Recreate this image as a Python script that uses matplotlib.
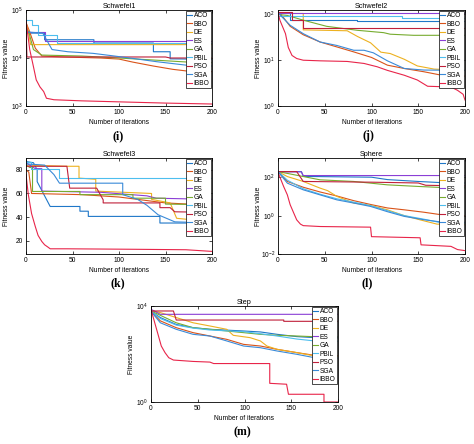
import numpy as np
import matplotlib
matplotlib.use('Agg')
import matplotlib.pyplot as plt
from matplotlib.ticker import FixedLocator, FuncFormatter, NullLocator

plt.rcParams['font.family'] = ['Liberation Sans', 'DejaVu Sans']
plt.rcParams['mathtext.fontset'] = 'custom'
plt.rcParams['mathtext.rm'] = 'Liberation Sans'
plt.rcParams['mathtext.it'] = 'Liberation Sans'

names = ['ACO', 'BBO', 'DE', 'ES', 'GA', 'PBIL', 'PSO', 'SGA', 'IBBO']
colors = ['#1f77c8', '#d95319', '#edb120', '#8b3fd6', '#77ac30',
          '#4dbeee', '#c0203a', '#3a8ad8', '#e8254a']

# ---- (i) Schwefel1 ----
s1_x = {
    'ACO': [0, 20, 20, 73, 73, 137, 137, 155, 155, 200],
    'BBO': [0, 4, 10, 17, 40, 80, 100, 115, 137, 158, 175, 200],
    'DE': [0, 2, 5, 200],
    'ES': [0, 20, 20, 200],
    'GA': [0, 3, 8, 17, 60, 100, 140, 175, 200],
    'PBIL': [0, 6, 6, 13, 13, 33, 33, 200],
    'PSO': [0, 1, 150, 155, 200],
    'SGA': [0, 18, 28, 45, 72, 95, 115, 140, 172, 200],
    'IBBO': [0, 4, 8, 11, 15, 19, 22, 30, 60, 100, 150, 200],
}
s1_y = {
    'ACO': [3.3e4, 3.3e4, 2.4e4, 2.4e4, 2.05e4, 2.05e4, 1.35e4, 1.35e4, 9.6e3, 9.4e3],
    'BBO': [5.5e4, 3.5e4, 1.6e4, 1.1e4, 1.05e4, 1.0e4, 9.5e3, 8.2e3, 6.8e3, 5.8e3, 5.3e3, 5.2e3],
    'DE': [5.4e4, 4.0e4, 1.9e4, 1.9e4],
    'ES': [3.5e4, 3.5e4, 2.3e4, 2.3e4],
    'GA': [4.2e4, 3.5e4, 1.5e4, 1.15e4, 1.1e4, 1.0e4, 9.0e3, 8.2e3, 8.0e3],
    'PBIL': [6.2e4, 6.2e4, 4.8e4, 4.8e4, 3.0e4, 3.0e4, 2.05e4, 2.05e4],
    'PSO': [4.5e4, 1.05e4, 1.05e4, 1.0e4, 1.0e4],
    'SGA': [3.5e4, 3.3e4, 1.5e4, 1.35e4, 1.25e4, 1.1e4, 9.8e3, 8.4e3, 7.1e3, 6.8e3],
    'IBBO': [6e4, 1.5e4, 6.6e3, 3.5e3, 2.5e3, 2.0e3, 1.45e3, 1.35e3, 1.28e3, 1.22e3, 1.15e3, 1.1e3],
}

# ---- (j) Schwefel2 ----
s2_x = {
    'ACO': [0, 13, 13, 85, 85, 200],
    'BBO': [0, 5, 13, 27, 45, 63, 81, 100, 117, 135, 156, 175, 200],
    'DE': [0, 27, 27, 74, 85, 99, 110, 120, 135, 149, 167, 200],
    'ES': [0, 200],
    'GA': [0, 10, 27, 52, 85, 113, 120, 145, 200],
    'PBIL': [0, 133, 133, 200],
    'PSO': [0, 15, 15, 27, 27, 200],
    'SGA': [0, 5, 13, 27, 45, 63, 81, 92, 102, 117, 135, 156, 200],
    'IBBO': [0, 2, 8, 11, 15, 20, 27, 45, 74, 92, 106, 117, 135, 149, 160, 185, 192, 198, 200],
}
s2_y = {
    'ACO': [110, 110, 76, 76, 73, 73],
    'BBO': [110, 90, 55, 36, 25, 19.5, 15.2, 11.5, 7.8, 6.6, 5.6, 4.7, 4.5],
    'DE': [105, 105, 46, 44, 33, 24, 15, 14, 10.5, 7.5, 6.4, 6.0],
    'ES': [108, 108],
    'GA': [100, 95, 75, 55, 45, 40, 37, 35, 35],
    'PBIL': [92, 92, 82, 82],
    'PSO': [115, 115, 75, 75, 51, 51],
    'SGA': [110, 85, 58, 38, 25, 21, 16.5, 16.5, 14.5, 9.7, 6.6, 6.1, 6.0],
    'IBBO': [110, 75, 38, 19, 12.7, 10.9, 10, 9.7, 9.4, 8.5, 7.2, 6.0, 4.7, 3.7, 2.7, 2.6, 2.2, 1.8, 1.35],
}

# ---- (k) Schwefel3 ----
s3_x = {
    'ACO': [0, 8, 12, 12, 26, 58, 58, 67, 67, 144, 144, 200],
    'BBO': [0, 3, 6, 60, 100, 150, 175, 200],
    'DE': [0, 44, 57, 57, 75, 75, 135, 135, 155, 162, 175, 200],
    'ES': [0, 10, 17, 17, 80, 130, 140, 200],
    'GA': [0, 4, 7, 7, 58, 58, 115, 115, 150, 150, 200],
    'PBIL': [0, 5, 5, 36, 36, 200],
    'PSO': [0, 44, 47, 76, 83, 83, 144, 144, 155, 160, 200],
    'SGA': [0, 20, 30, 36, 104, 104, 120, 130, 142, 160, 200],
    'IBBO': [0, 2.5, 6, 10, 13, 17, 20, 24, 26, 44, 115, 172, 200],
}
s3_y = {
    'ACO': [87, 86, 80, 70, 49, 49, 45, 45, 40.6, 40.6, 35, 35],
    'BBO': [80, 78, 60, 59, 57, 52, 51, 51],
    'DE': [84, 83, 83, 73, 72, 62, 60, 55, 52, 39, 38, 38],
    'ES': [86, 81, 81, 62, 61, 58, 56, 55],
    'GA': [84, 82, 82, 61.7, 61.7, 59, 59, 56, 56, 51, 50.5],
    'PBIL': [87, 87, 81, 81, 73.5, 73.5],
    'PSO': [83, 83, 64.5, 64.5, 54.6, 52, 52, 48, 48, 44.5, 44],
    'SGA': [85, 84, 76, 68.7, 68.7, 59, 55, 50, 42, 36, 35],
    'IBBO': [76, 59, 43, 32, 24.5, 19.4, 16.6, 14.4, 13.2, 13.2, 12.8, 12.4, 11],
}

# ---- (l) Sphere ----
sp_x = {
    'ACO': [0, 25, 27, 100, 117, 150, 175, 200],
    'BBO': [0, 10, 27, 45, 63, 81, 99, 117, 135, 156, 175, 200],
    'DE': [0, 10, 27, 45, 53, 63, 81, 99, 117, 135, 152, 170, 200],
    'ES': [0, 25, 27, 200],
    'GA': [0, 45, 81, 117, 150, 175, 200],
    'PBIL': [0, 10, 27, 45, 63, 81, 99, 117, 135, 156, 175, 200],
    'PSO': [0, 20, 27, 100, 150, 158, 200],
    'SGA': [0, 10, 27, 45, 63, 81, 99, 117, 135, 156, 175, 200],
    'IBBO': [0, 6, 10, 13, 17, 20, 24, 27, 45, 99, 100, 152, 153, 185, 192, 200],
}
sp_y = {
    'ACO': [196, 196, 110, 100, 75, 60, 52, 50],
    'BBO': [196, 60, 30, 17, 10.5, 6.0, 3.8, 2.5, 2.0, 1.5, 1.1, 1.0],
    'DE': [196, 108, 60, 27, 20, 10, 4.5, 3.4, 2.0, 1.0, 0.6, 0.36, 0.33],
    'ES': [190, 190, 122, 122],
    'GA': [196, 73, 60, 40, 33, 29, 28],
    'PBIL': [196, 70, 25, 13, 7.5, 5.0, 3.3, 1.8, 1.0, 0.65, 0.42, 0.4],
    'PSO': [196, 196, 60, 55, 50, 38, 35],
    'SGA': [196, 49, 22, 12, 6.6, 4.5, 3.0, 1.6, 0.91, 0.61, 0.46, 0.45],
    'IBBO': [180, 33, 12, 3.7, 1.3, 0.6, 0.36, 0.3, 0.27, 0.25, 0.08, 0.07, 0.03, 0.025, 0.017, 0.015],
}

# ---- (m) Step ----
st_x = {
    'ACO': [0, 10, 27, 45, 63, 99, 117, 135, 156, 175, 200],
    'BBO': [0, 10, 27, 45, 63, 81, 99, 117, 135, 156, 175, 200],
    'DE': [0, 10, 27, 45, 63, 81, 88, 106, 117, 124, 135, 156, 175, 200],
    'ES': [0, 10, 200],
    'GA': [0, 27, 45, 63, 81, 99, 117, 135, 156, 175, 200],
    'PBIL': [0, 10, 27, 45, 63, 99, 117, 135, 156, 175, 200],
    'PSO': [0, 24, 27, 142, 142, 200],
    'SGA': [0, 10, 27, 45, 63, 81, 99, 117, 135, 156, 175, 200],
    'IBBO': [0, 4, 8, 11, 15, 19, 24, 45, 63, 67, 127, 127, 145, 147, 185, 185, 200],
}
st_y = {
    'ACO': [6e3, 3.3e3, 1.7e3, 1.25e3, 1.07e3, 910, 830, 660, 530, 480, 470],
    'BBO': [6e3, 2.4e3, 1.25e3, 776, 562, 408, 252, 215, 156, 114, 88, 85],
    'DE': [6.5e3, 5.3e3, 3.3e3, 2.0e3, 1.47e3, 1.07e3, 600, 480, 350, 215, 156, 114, 83, 80],
    'ES': [7.3e3, 4.5e3, 4.5e3],
    'GA': [6.2e3, 2.0e3, 1.25e3, 1.07e3, 910, 776, 660, 600, 562, 525, 520],
    'PBIL': [6e3, 3.0e3, 1.6e3, 1.2e3, 1.0e3, 850, 700, 560, 420, 350, 340],
    'PSO': [6.2e3, 6.2e3, 2.6e3, 2.6e3, 2.3e3, 2.3e3],
    'SGA': [6e3, 2.0e3, 1.07e3, 660, 562, 350, 215, 183, 133, 97, 70, 68],
    'IBBO': [7.3e3, 2.0e3, 562, 215, 114, 70, 56, 49, 46, 40, 40, 6, 5.5, 2.1, 2.1, 1, 1],
}

W, H = 474, 444
fig = plt.figure(figsize=(W / 100, H / 100), dpi=100)
FS = 4.8


def panel(px, title, xs, ys, logy, ylim, yticks, tag, tagpos):
    x0, y0, x1, y1 = px
    ax = fig.add_axes([x0 / W, 1 - y1 / H, (x1 - x0) / W, (y1 - y0) / H])
    for n, c in zip(names, colors):
        ax.plot(xs[n], ys[n], color=c, lw=0.8, label=n)
    if logy:
        ax.set_yscale('log')
        ax.yaxis.set_major_locator(FixedLocator(yticks))
        ax.yaxis.set_major_formatter(FuncFormatter(
            lambda v, p: r'$10^{%d}$' % round(np.log10(v))))
        ax.yaxis.set_minor_locator(NullLocator())
    else:
        ax.set_yticks(yticks)
    ax.set_ylim(*ylim)
    ax.set_xlim(0, 200)
    ax.set_xticks([0, 50, 100, 150, 200])
    ax.tick_params(direction='in', length=2, width=0.5, labelsize=FS,
                   pad=2, top=True, right=True)
    for s in ax.spines.values():
        s.set_linewidth(0.6)
    ax.set_title(title, fontsize=5.2, pad=1.5)
    ax.set_xlabel('Number of iterations', fontsize=FS)
    ax.set_ylabel('Fitness value', fontsize=FS)
    ax.xaxis.set_label_coords(0.5, -0.135)
    ax.yaxis.set_label_coords(-0.085, 0.5)
    leg = ax.legend(loc='upper right', fontsize=FS, handlelength=0.7,
                    handletextpad=0.25, borderpad=0.2, labelspacing=0.22,
                    borderaxespad=0.15, fancybox=False, framealpha=1,
                    edgecolor='black')
    leg.get_frame().set_linewidth(0.5)
    fig.text(tagpos[0] / W, 1 - tagpos[1] / H, tag, ha='center', va='center',
             fontsize=8.5, family='Liberation Serif', fontweight='bold')
    return ax


panel((26, 10, 212, 106), 'Schwefel1', s1_x, s1_y, True, (1e3, 1e5),
      [1e3, 1e4, 1e5], '(i)', (118, 136))
panel((278, 10, 465, 106), 'Schwefel2', s2_x, s2_y, True, (1, 125),
      [1, 10, 100], '(j)', (368, 136))
panel((26, 158, 212, 254), 'Schwefel3', s3_x, s3_y, False, (8.8, 90),
      [20, 40, 60, 80], '(k)', (118, 283))
panel((278, 158, 465, 254), 'Sphere', sp_x, sp_y, True, (1e-2, 1e3),
      [1e-2, 1, 1e2], '(l)', (367, 283))
panel((151, 306, 338, 402), 'Step', st_x, st_y, True, (1, 1e4),
      [1, 1e4], '(m)', (242, 432))

fig.savefig('out.png', dpi=100)
